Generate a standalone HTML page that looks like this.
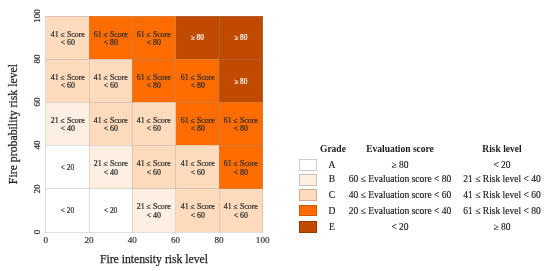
<!DOCTYPE html>
<html><head><meta charset="utf-8"><style>
html,body{margin:0;padding:0;background:#fff;}
body{width:550px;height:271px;position:relative;overflow:hidden;font-family:"Liberation Serif",serif;color:#262626;}
.cell{position:absolute;display:flex;align-items:center;justify-content:center;text-align:center;font-size:7.3px;line-height:8.45px;color:#2b2b2b;}
.cell span{display:block;white-space:nowrap;-webkit-text-stroke:0.2px currentColor;transform:scaleX(1.08);position:relative;top:1.5px;}
.cell.w{color:#fff;}
.cell.one span{transform:none;top:1.2px;}
.vl{position:absolute;top:15.5px;width:1px;height:217.1px;background:rgba(150,150,150,0.3);}
.hl{position:absolute;left:45.4px;height:1px;width:217.8px;background:rgba(150,150,150,0.3);}
.xt{position:absolute;top:235.2px;width:30px;text-align:center;font-size:9.1px;line-height:10px;color:#333;-webkit-text-stroke:0.2px #333;}
.yt{position:absolute;left:32.4px;width:10px;height:10px;font-size:9.1px;line-height:10px;color:#333;-webkit-text-stroke:0.2px #333;}
.yt{display:flex;align-items:center;justify-content:center;}
.yt{transform:rotate(-90deg);}
.xtitle{position:absolute;left:54px;top:253.3px;width:200px;text-align:center;font-size:11.7px;line-height:14px;color:#262626;-webkit-text-stroke:0.25px #262626;}
.ytitle{position:absolute;left:-87.1px;top:117.2px;width:200px;text-align:center;font-size:11.8px;line-height:14px;transform:rotate(-90deg);color:#262626;-webkit-text-stroke:0.25px #262626;}
.hd{position:absolute;top:143.3px;font-size:9.5px;line-height:12px;font-weight:bold;text-align:center;white-space:nowrap;color:#1a1a1a;}
.sw{position:absolute;left:299.2px;width:17.7px;height:11.5px;box-sizing:border-box;border:1px solid rgba(0,0,0,0.2);}
.lt{position:absolute;margin-top:1px;height:11.5px;line-height:11.5px;font-size:9.5px;text-align:center;white-space:nowrap;color:#1a1a1a;-webkit-text-stroke:0.15px #1a1a1a;}
.lt.g{left:320px;width:24px;}
.lt.e{left:340px;width:120px;}
.lt.r{left:451px;width:102px;}
</style></head><body>
<div class="cell" style="left:45.9px;top:16px;width:43.1px;height:43.0px;background:#fddbbc"><span>41 ≤ Score<br>&lt; 60</span></div><div class="cell" style="left:89.0px;top:16px;width:43.3px;height:43.0px;background:#ff6d02"><span>61 ≤ Score<br>&lt; 80</span></div><div class="cell" style="left:132.3px;top:16px;width:43.3px;height:43.0px;background:#ff6d02"><span>61 ≤ Score<br>&lt; 80</span></div><div class="cell w one" style="left:175.6px;top:16px;width:43.4px;height:43.0px;background:#c04a00"><span>≥ 80</span></div><div class="cell w one" style="left:219.0px;top:16px;width:43.7px;height:43.0px;background:#c04a00"><span>≥ 80</span></div><div class="cell" style="left:45.9px;top:59.0px;width:43.1px;height:43.3px;background:#fddbbc"><span>41 ≤ Score<br>&lt; 60</span></div><div class="cell" style="left:89.0px;top:59.0px;width:43.3px;height:43.3px;background:#fddbbc"><span>41 ≤ Score<br>&lt; 60</span></div><div class="cell" style="left:132.3px;top:59.0px;width:43.3px;height:43.3px;background:#ff6d02"><span>61 ≤ Score<br>&lt; 80</span></div><div class="cell" style="left:175.6px;top:59.0px;width:43.4px;height:43.3px;background:#ff6d02"><span>61 ≤ Score<br>&lt; 80</span></div><div class="cell w one" style="left:219.0px;top:59.0px;width:43.7px;height:43.3px;background:#c04a00"><span>≥ 80</span></div><div class="cell" style="left:45.9px;top:102.3px;width:43.1px;height:43.1px;background:#fdefe1"><span>21 ≤ Score<br>&lt; 40</span></div><div class="cell" style="left:89.0px;top:102.3px;width:43.3px;height:43.1px;background:#fddbbc"><span>41 ≤ Score<br>&lt; 60</span></div><div class="cell" style="left:132.3px;top:102.3px;width:43.3px;height:43.1px;background:#fddbbc"><span>41 ≤ Score<br>&lt; 60</span></div><div class="cell" style="left:175.6px;top:102.3px;width:43.4px;height:43.1px;background:#ff6d02"><span>61 ≤ Score<br>&lt; 80</span></div><div class="cell" style="left:219.0px;top:102.3px;width:43.7px;height:43.1px;background:#ff6d02"><span>61 ≤ Score<br>&lt; 80</span></div><div class="cell one" style="left:45.9px;top:145.4px;width:43.1px;height:43.4px;background:#ffffff"><span>&lt; 20</span></div><div class="cell" style="left:89.0px;top:145.4px;width:43.3px;height:43.4px;background:#fdefe1"><span>21 ≤ Score<br>&lt; 40</span></div><div class="cell" style="left:132.3px;top:145.4px;width:43.3px;height:43.4px;background:#fddbbc"><span>41 ≤ Score<br>&lt; 60</span></div><div class="cell" style="left:175.6px;top:145.4px;width:43.4px;height:43.4px;background:#fddbbc"><span>41 ≤ Score<br>&lt; 60</span></div><div class="cell" style="left:219.0px;top:145.4px;width:43.7px;height:43.4px;background:#ff6d02"><span>61 ≤ Score<br>&lt; 80</span></div><div class="cell one" style="left:45.9px;top:188.8px;width:43.1px;height:43.3px;background:#ffffff"><span>&lt; 20</span></div><div class="cell one" style="left:89.0px;top:188.8px;width:43.3px;height:43.3px;background:#ffffff"><span>&lt; 20</span></div><div class="cell" style="left:132.3px;top:188.8px;width:43.3px;height:43.3px;background:#fdefe1"><span>21 ≤ Score<br>&lt; 40</span></div><div class="cell" style="left:175.6px;top:188.8px;width:43.4px;height:43.3px;background:#fddbbc"><span>41 ≤ Score<br>&lt; 60</span></div><div class="cell" style="left:219.0px;top:188.8px;width:43.7px;height:43.3px;background:#fddbbc"><span>41 ≤ Score<br>&lt; 60</span></div>
<div class="vl" style="left:45.4px"></div><div class="vl" style="left:88.5px"></div><div class="vl" style="left:131.8px"></div><div class="vl" style="left:175.1px"></div><div class="vl" style="left:218.5px"></div><div class="vl" style="left:262.2px"></div><div class="hl" style="top:15.5px"></div><div class="hl" style="top:58.5px"></div><div class="hl" style="top:101.8px"></div><div class="hl" style="top:144.9px"></div><div class="hl" style="top:188.3px"></div><div class="hl" style="top:231.6px"></div>
<div class="xt" style="left:30.9px">0</div><div class="xt" style="left:74.0px">20</div><div class="xt" style="left:117.30000000000001px">40</div><div class="xt" style="left:160.6px">60</div><div class="xt" style="left:204.0px">80</div><div class="xt" style="left:247.7px">100</div><div class="yt" style="top:11px">100</div><div class="yt" style="top:54.0px">80</div><div class="yt" style="top:97.3px">60</div><div class="yt" style="top:140.4px">40</div><div class="yt" style="top:183.8px">20</div><div class="yt" style="top:227.1px">0</div>
<div class="xtitle">Fire intensity risk level</div>
<div class="ytitle">Fire probability risk level</div>
<div class="hd" style="left:320px;width:24px;">Grade</div>
<div class="hd" style="left:340px;width:120px;">Evaluation score</div>
<div class="hd" style="left:451px;width:102px;">Risk level</div>
<div class="sw" style="top:159.1px;background:#ffffff"></div><div class="lt g" style="top:159.1px">A</div><div class="lt e" style="top:159.1px">≥ 80</div><div class="lt r" style="top:159.1px">&lt; 20</div><div class="sw" style="top:174.1px;background:#fdefe1"></div><div class="lt g" style="top:173.1px">B</div><div class="lt e" style="top:173.1px">60 ≤ Evaluation score &lt; 80</div><div class="lt r" style="top:173.1px">21 ≤ Risk level &lt; 40</div><div class="sw" style="top:189.1px;background:#fddbbc"></div><div class="lt g" style="top:189.1px">C</div><div class="lt e" style="top:189.1px">40 ≤ Evaluation score &lt; 60</div><div class="lt r" style="top:189.1px">41 ≤ Risk level &lt; 60</div><div class="sw" style="top:204.9px;background:#ff6d02"></div><div class="lt g" style="top:204.7px">D</div><div class="lt e" style="top:204.7px">20 ≤ Evaluation score &lt; 40</div><div class="lt r" style="top:204.7px">61 ≤ Risk level &lt; 80</div><div class="sw" style="top:221.0px;background:#c04a00"></div><div class="lt g" style="top:221.0px">E</div><div class="lt e" style="top:221.0px">&lt; 20</div><div class="lt r" style="top:221.0px">≥ 80</div>
</body></html>
